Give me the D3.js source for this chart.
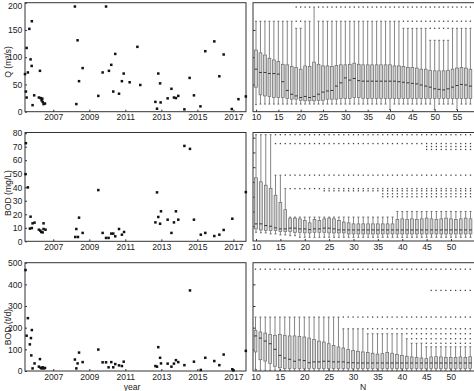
<!DOCTYPE html>
<html><head><meta charset="utf-8">
<script src="https://cdn.jsdelivr.net/npm/d3@7"></script>
<style>body{margin:0;background:#fff}svg{display:block;font-family:"Liberation Sans",Arial,sans-serif}</style>
</head><body><svg id="c" width="474" height="391"></svg>
<script>
// ---------- Left panels: time series (decimal year, value) ----------
const qYears = [2005.43,2005.48,2005.52,2005.52,2005.59,2005.67,2005.74,2005.80,2005.81,2005.85,2005.94,2006.20,2006.26,2006.30,2006.35,2006.39,2006.41,2006.46,2006.54,2008.20,2008.28,2008.35,2008.43,2008.63,2009.50,2009.74,2009.93,2010.09,2010.22,2010.33,2010.44,2010.65,2010.81,2010.91,2011.24,2011.67,2011.83,2012.67,2012.76,2012.83,2012.93,2012.96,2013.35,2013.56,2013.70,2013.81,2013.94,2014.28,2014.57,2014.81,2015.17,2015.44,2015.94,2016.22,2016.46,2016.91,2017.28,2017.69];
const qValues = [69,37,26,117,72,152,96,84,166,12,30,26,75,25,21,24,18,14,15,193,14,131,56,80,29,72,193,75,86,37,106,33,56,70,54,119,49,18,5.5,70,52,17,24.5,42,26,25,29,4.3,62,30,9.8,111,129,65,105,4.9,23,28];

const bodYears = [2005.48,2005.46,2005.59,2005.74,2005.70,2005.81,2005.85,2005.96,2006.20,2006.28,2006.33,2006.41,2006.46,2006.46,2006.57,2008.22,2008.28,2008.37,2008.43,2008.63,2009.50,2009.74,2009.93,2010.07,2010.22,2010.33,2010.44,2010.65,2010.81,2010.93,2012.67,2012.76,2012.83,2012.93,2012.98,2013.35,2013.56,2013.70,2013.81,2013.94,2014.28,2014.59,2014.81,2015.19,2015.44,2015.94,2016.22,2016.46,2016.94,2017.69];
const bodValues = [72.6,49.7,39.9,18.2,9.4,9.8,13.3,13.8,8.6,7.9,6.9,6.6,13.3,9.1,8.6,3.2,9.1,3.2,17.5,6.2,37.9,6.2,2.5,2.5,5.7,5.7,3.7,9.1,4.9,6.9,14.0,36.2,18.0,13.0,22.2,16.0,6.2,14.0,22.2,16.0,70.6,68.4,16.0,4.9,6.2,3.9,4.9,8.4,16.7,36.4];

const loadYears = [2005.46,2005.52,2005.59,2005.70,2005.76,2005.81,2005.78,2005.85,2005.96,2006.20,2006.26,2006.30,2006.35,2006.41,2006.46,2006.54,2008.20,2008.28,2008.35,2008.43,2008.63,2009.50,2009.74,2009.93,2010.07,2010.22,2010.33,2010.44,2010.65,2010.81,2010.91,2012.67,2012.76,2012.83,2012.93,2012.98,2013.35,2013.56,2013.70,2013.81,2013.94,2014.28,2014.59,2014.81,2015.19,2015.44,2015.94,2016.22,2016.46,2016.94,2017.00,2017.69];
const loadValues = [466,163,244,123,152,189,72,12,35,20,55,15,12,17,12,14,53,12,35,85,41,99,40,40,17,41,17,32,26,23,43,23,20,110,61,35,34,20,34,50,41,27,372,43,5,61,46,27,76,8,3,93];

const yearTicks = [2007,2009,2011,2013,2015,2017];
const qTicks = [0,50,100,150,200];
const bodTicks = [0,10,20,30,40,50,60,70,80];
const loadTicks = [0,100,200,300,400,500];

// ---------- Right panels: box plots by N (starting at N = 10) ----------
const qQ3  = [113,108,104,98,95,92,87,86,83,81,78,84,83,91,87,84,84,83,85,86,86,87,89,87,86,86,86,86,86,86,86,84,84,83,81,81,80,78,78,76,75,75,75,76,78,80,81,80,78];
const qMed = [78,72,72,70,70,69,55,39,32,29,26,28,26,28,32,36,38,39,47,53,62,58,61,57,56,56,56,56,56,56,56,56,55,54,53,52,51,49,47,45,42,41,40,42,45,48,50,49,47];
const qQ1  = [45,31,29,28,26,26,26,24,23,23,21,20,20,20,21,21,23,23,23,24,24,24,26,26,24,24,24,24,24,24,24,24,24,24,24,24,24,24,24,24,24,24,24,24,24,24,24,24,24];
const qHi  = [166,166,166,166,166,166,166,166,166,153,153,166,166,192,166,166,166,166,166,166,166,166,166,166,166,166,166,166,166,166,166,166,166,153,153,153,153,153,153,131,131,131,131,131,153,153,153,153,153];
const qLo  = [13,14,14,14,14,14,14,14,14,14,14,14,14,14,14,14,14,14,14,14,14,14,14,14,14,14,14,14,14,14,4,14,14,14,14,14,14,14,14,14,4,14,14,14,14,4,14,14,14];
const qOutliers = [[192,19,22],[192,24,58],[166,19,20],[166,43,58],[153,49,53]]; // value, from N, to N
const qNTicks = [10,15,20,25,30,35,40,45,50,55];

const bQ3  = [42.8,40.1,37.8,35.6,31,26,21.2,15.5,15.5,15,13.9,12.3,14.6,13.9,15,15.5,15,13.9,12.8,12.3,11.6,11.6,11.6,11.6,11.6,11.6,11.6,11.6,11.6,14.6,15,14.6,15,14.6,15,15.5,15,14.6,15,15.5,15,14.6,15,15.5,15];
const bMed = [11.6,11.6,10.5,10,8.9,8.2,8.2,8.7,8.7,8.2,8.2,7.7,8.2,8.2,8.7,8.7,8.2,7.5,7.5,7.5,7.5,7.5,7.5,7.5,7.5,7.5,7.5,7.5,7.5,7.5,7.5,7.5,7.5,7.5,7.5,7.5,7.5,7.5,7.5,7.5,7.5,7.5,7.5,7.5,7.5];
const bQ1  = [8.2,7.5,7.1,7.1,7.1,6.4,6.4,6.4,5.9,5.9,5.5,5.5,5.9,5.9,5.9,5.5,5.5,5.5,5.5,4.8,4.8,4.8,4.8,4.8,4.8,4.8,4.8,4.8,4.8,4.8,4.8,4.8,4.8,4.8,4.8,4.8,4.8,4.8,4.8,4.8,4.8,4.8,4.8,4.8,4.8];
const bHi  = [72,72,72,72,44.6,44.6,35.5,16.2,16.2,16.2,16.2,16.2,16.2,16.2,16.2,16.2,16.2,16.2,16.2,16.2,16.2,16.2,16.2,16.2,16.2,16.2,16.2,16.2,16.2,20,20,20,20,20,20,20,20,20,20,20,20,20,20,20,20];
const bLo  = [5.9,5.5,5.5,4.8,4.8,4.1,4.1,3.6,3.6,2.5,2.5,2.5,2.5,2.5,2.5,2.5,2.5,2.5,2.5,2.5,2.5,2.5,2.5,2.5,2.5,2.5,2.5,2.5,2.5,2.5,2.5,2.5,2.5,2.5,2.5,2.5,2.5,2.5,2.5,2.5,2.5,2.5,2.5,2.5,2.5];
const bOutliers = [[72,14,54],[66,14,54],[64,45,54],[62,45,54],[44.6,16,54],[35.5,17,54],[34,24,54],[32,36,54],[30,36,54]];

const lQ3  = [188,180,175,169,165,168,165,162,162,160,157,152,146,138,134,126,118,111,106,100,95,91,88,85,82,78,80,85,82,77,72,68,65,62,60,57,65,66,65,63,62,63,65,63,66];
const lMed = [162,152,138,126,100,72,60,54,45,51,48,38,42,42,45,45,42,42,42,38,38,37,37,37,37,37,37,37,37,37,37,37,37,37,37,37,37,37,37,37,37,37,37,37,37];
const lQ1  = [88,52,46,34,22,15,11,12,12,12,12,12,12,12,12,12,12,12,12,12,12,12,12,12,12,12,12,12,12,12,12,12,12,12,12,12,12,12,12,12,12,12,12,12,12];
const lHi  = [249,249,249,249,249,249,249,249,249,249,249,249,249,249,249,249,249,249,195,195,195,195,195,172,172,172,172,172,172,172,172,149,128,128,128,112,112,112,112,112,112,112,112,112,112];
const lLo  = [8,3,3,3,3,3,3,3,3,3,3,3,3,3,3,3,3,3,3,3,3,3,3,3,3,3,3,3,3,3,3,3,3,3,3,3,3,3,3,3,3,3,3,3,3];
const lOutliers = [[470,10,54],[372,46,54],[249,28,54],[195,33,54],[172,41,54],[149,42,54],[128,45,54]];
const bNTicks = [10,15,20,25,30,35,40,45,50];

// ---------- drawing ----------
const svg = d3.select("#c");
const FS = 8.6;
const xYear = d3.scaleLinear().domain([2005.43, 2017.70]).range([25, 246]);

const leftPanels = [
  {years:qYears, vals:qValues, y:d3.scaleLinear().domain([0,200]).range([111.7,2.7]), top:2.7, bot:111.7, ticks:qTicks, label:"Q (m³/s)", lc:62},
  {years:bodYears, vals:bodValues, y:d3.scaleLinear().domain([0,80]).range([241.3,133.2]), top:132.5, bot:241.3, ticks:bodTicks, label:"BOD (mg/L)", lc:193},
  {years:loadYears, vals:loadValues, y:d3.scaleLinear().domain([0,500]).range([371,262.7]), top:262.7, bot:371, ticks:loadTicks, label:"BOD (t/d)", lc:327}
];

leftPanels.forEach((p,pi) => {
  const g = svg.append("g");
  g.append("rect").attr("x",25).attr("y",p.top).attr("width",221).attr("height",p.bot-p.top)
    .attr("fill","none").attr("stroke","#333").attr("stroke-width",1);
  const ax = g.append("g").attr("transform",`translate(0,${p.bot})`)
    .call(d3.axisBottom(xYear).tickValues(yearTicks).tickFormat(d3.format("d")).tickSize(-2).tickPadding(2.6));
  const ay = g.append("g").attr("transform","translate(25,0)")
    .call(d3.axisLeft(p.y).tickValues(p.ticks).tickSize(-2).tickPadding(2.6));
  [ax,ay].forEach(a=>{a.select(".domain").remove(); a.selectAll("line").attr("stroke","#333");
    a.selectAll("text").attr("font-size",FS).attr("fill","#222").attr("font-family","Liberation Sans, Arial, sans-serif");});
  if (pi === 0) ay.selectAll("text").filter(d => d === 200).attr("dy","0.62em");
  g.append("text").attr("transform",`translate(11,${p.lc}) rotate(-90)`).attr("text-anchor","middle")
    .attr("font-size",FS).attr("fill","#222").text(p.label);
  g.selectAll("rect.pt").data(p.years.map((d,i)=>[d,p.vals[i]])).enter().append("rect")
    .attr("class","pt").attr("x",d=>xYear(d[0])-1.25).attr("y",d=>p.y(d[1])-1.25)
    .attr("width",2.5).attr("height",2.5).attr("fill","#111");
});

const rightPanels = [
  {q3:qQ3, med:qMed, q1:qQ1, hi:qHi, lo:qLo, out:qOutliers, nt:qNTicks,
   x:d3.scaleLinear().domain([10,55]).range([256,457]), y:d3.scaleLinear().domain([0,200]).range([111.7,2.7]),
   top:2.7, bot:111.7, inner:[50,100,150]},
  {q3:bQ3, med:bMed, q1:bQ1, hi:bHi, lo:bLo, out:bOutliers, nt:bNTicks,
   x:d3.scaleLinear().domain([10,50]).range([256,451]), y:d3.scaleLinear().domain([0,73.5]).range([241,132.5]),
   top:132.5, bot:241, inner:[10,20,30,40,50,60,70]},
  {q3:lQ3, med:lMed, q1:lQ1, hi:lHi, lo:lLo, out:lOutliers, nt:bNTicks,
   x:d3.scaleLinear().domain([10,50]).range([255.5,450.7]), y:d3.scaleLinear().domain([0,500]).range([371,262.7]),
   top:262.7, bot:371, inner:[100,200,300,400]}
];

rightPanels.forEach(p => {
  const g = svg.append("g");
  g.append("rect").attr("x",253).attr("y",p.top).attr("width",240).attr("height",p.bot-p.top)
    .attr("fill","none").attr("stroke","#333").attr("stroke-width",1);
  const ax = g.append("g").attr("transform",`translate(0,${p.bot})`)
    .call(d3.axisBottom(p.x).tickValues(p.nt).tickSize(-2).tickPadding(2.6));
  ax.select(".domain").remove(); ax.selectAll("line").attr("stroke","#333");
  ax.selectAll("text").attr("font-size",FS).attr("fill","#222");
  const ay = g.append("g").attr("transform","translate(253,0)")
    .call(d3.axisLeft(p.y).tickValues(p.inner).tickSize(-2.5).tickFormat(""));
  ay.select(".domain").remove(); ay.selectAll("line").attr("stroke","#333");

  const data = p.q3.map((d,i)=>({n:10+i, q3:d, med:p.med[i], q1:p.q1[i], hi:p.hi[i], lo:p.lo[i]}));
  const bw = 2.8, cw = 2;
  const b = g.selectAll("g.box").data(data).enter().append("g").attr("class","box");
  b.append("line").attr("x1",d=>p.x(d.n)).attr("x2",d=>p.x(d.n))
    .attr("y1",d=>p.y(d.hi)).attr("y2",d=>p.y(d.q3)).attr("stroke","#666").attr("stroke-width",0.8);
  b.append("line").attr("x1",d=>p.x(d.n)).attr("x2",d=>p.x(d.n))
    .attr("y1",d=>p.y(d.q1)).attr("y2",d=>p.y(d.lo)).attr("stroke","#666").attr("stroke-width",0.8);
  b.append("line").attr("x1",d=>p.x(d.n)-cw/2).attr("x2",d=>p.x(d.n)+cw/2)
    .attr("y1",d=>p.y(d.hi)).attr("y2",d=>p.y(d.hi)).attr("stroke","#555").attr("stroke-width",0.8);
  b.append("line").attr("x1",d=>p.x(d.n)-cw/2).attr("x2",d=>p.x(d.n)+cw/2)
    .attr("y1",d=>p.y(d.lo)).attr("y2",d=>p.y(d.lo)).attr("stroke","#555").attr("stroke-width",0.8);
  b.append("rect").attr("x",d=>p.x(d.n)-bw/2).attr("width",bw)
    .attr("y",d=>p.y(d.q3)).attr("height",d=>p.y(d.q1)-p.y(d.q3))
    .attr("fill","#d2d2d2").attr("stroke","#666").attr("stroke-width",0.7);
  b.append("line").attr("x1",d=>p.x(d.n)-bw/2).attr("x2",d=>p.x(d.n)+bw/2)
    .attr("y1",d=>p.y(d.med)).attr("y2",d=>p.y(d.med)).attr("stroke","#333").attr("stroke-width",1);

  const pts = [];
  p.out.forEach(([v,a,z]) => { for (let n=a;n<=z;n++) pts.push([n,v]); });
  g.selectAll("rect.o").data(pts).enter().append("rect").attr("class","o")
    .attr("x",d=>p.x(d[0])-0.65).attr("y",d=>p.y(d[1])-0.65).attr("width",1.3).attr("height",1.3).attr("fill","#444");
});

svg.append("text").attr("x",132).attr("y",389.5).attr("text-anchor","middle").attr("font-size",FS).attr("fill","#222").text("year");
svg.append("text").attr("x",363).attr("y",389.5).attr("text-anchor","middle").attr("font-size",FS).attr("fill","#222").text("N");
</script></body></html>
